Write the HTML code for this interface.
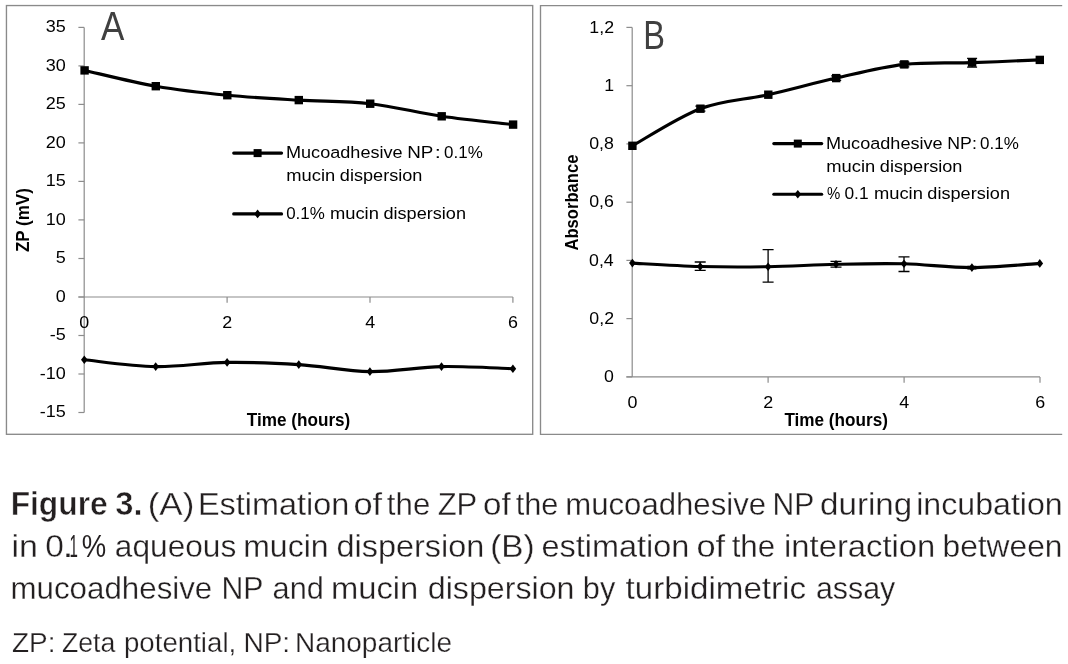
<!DOCTYPE html>
<html lang="en"><head><meta charset="utf-8"><title>Figure 3</title>
<style>html,body{margin:0;padding:0;background:#fff;overflow:hidden}svg{display:block}text{font-family:"Liberation Sans",sans-serif}</style></head><body>
<svg width="1068" height="664" viewBox="0 0 1068 664">
<rect width="1068" height="664" fill="#fff"/>
<rect x="6.45" y="5.55" width="526.25" height="428.75" fill="none" stroke="#8a8a8a" stroke-width="1.35"/>
<path d="M1062.2,5.55 H540.5 V434.4 H1062.2" fill="none" stroke="#8a8a8a" stroke-width="1.35"/>
<g stroke="#8c8c8c" stroke-width="1.2" fill="none">
<path d="M84.2,27.4 V412.5"/>
<path d="M78.4,412.5 H84.2"/>
<path d="M78.4,374.0 H84.2"/>
<path d="M78.4,335.5 H84.2"/>
<path d="M78.4,297.0 H84.2"/>
<path d="M78.4,258.5 H84.2"/>
<path d="M78.4,219.9 H84.2"/>
<path d="M78.4,181.4 H84.2"/>
<path d="M78.4,142.9 H84.2"/>
<path d="M78.4,104.4 H84.2"/>
<path d="M78.4,65.9 H84.2"/>
<path d="M78.4,27.4 H84.2"/>
<path d="M78.4,297.0 H512.9"/>
<path d="M227.1,297.0 v5.8"/>
<path d="M370.0,297.0 v5.8"/>
<path d="M512.9,297.0 v5.8"/>
</g>
<text x="39.76" y="417.20" font-size="16.9" fill="#000" textLength="26.01" lengthAdjust="spacingAndGlyphs">-15</text>
<text x="39.76" y="378.69" font-size="16.9" fill="#000" textLength="26.01" lengthAdjust="spacingAndGlyphs">-10</text>
<text x="49.77" y="340.18" font-size="16.9" fill="#000" textLength="16.00" lengthAdjust="spacingAndGlyphs">-5</text>
<text x="55.73" y="301.67" font-size="16.9" fill="#000" textLength="10.01" lengthAdjust="spacingAndGlyphs">0</text>
<text x="55.73" y="263.16" font-size="16.9" fill="#000" textLength="10.01" lengthAdjust="spacingAndGlyphs">5</text>
<text x="45.72" y="224.65" font-size="16.9" fill="#000" textLength="20.02" lengthAdjust="spacingAndGlyphs">10</text>
<text x="45.72" y="186.14" font-size="16.9" fill="#000" textLength="20.02" lengthAdjust="spacingAndGlyphs">15</text>
<text x="45.72" y="147.63" font-size="16.9" fill="#000" textLength="20.02" lengthAdjust="spacingAndGlyphs">20</text>
<text x="45.72" y="109.12" font-size="16.9" fill="#000" textLength="20.02" lengthAdjust="spacingAndGlyphs">25</text>
<text x="45.72" y="70.61" font-size="16.9" fill="#000" textLength="20.02" lengthAdjust="spacingAndGlyphs">30</text>
<text x="45.72" y="32.10" font-size="16.9" fill="#000" textLength="20.02" lengthAdjust="spacingAndGlyphs">35</text>
<text x="79.32" y="328.00" font-size="16.9" fill="#000" textLength="9.96" lengthAdjust="spacingAndGlyphs">0</text>
<text x="222.22" y="328.00" font-size="16.9" fill="#000" textLength="9.96" lengthAdjust="spacingAndGlyphs">2</text>
<text x="365.17" y="328.00" font-size="16.9" fill="#000" textLength="9.96" lengthAdjust="spacingAndGlyphs">4</text>
<text x="507.97" y="328.00" font-size="16.9" fill="#000" textLength="9.96" lengthAdjust="spacingAndGlyphs">6</text>
<text x="246.80" y="425.50" font-size="17.5" font-weight="bold" fill="#000" textLength="103.54" lengthAdjust="spacingAndGlyphs">Time (hours)</text>
<text transform="translate(28.9,252.09) rotate(-90)" font-size="17.5" font-weight="bold" textLength="63.96" lengthAdjust="spacingAndGlyphs">ZP (mV)</text>
<text x="100.92" y="39.90" font-size="41.3" fill="#404040" textLength="23.32" lengthAdjust="spacingAndGlyphs">A</text>
<path d="M84.6,70.4 C96.5,73.0 132.0,82.1 155.8,86.2 C179.6,90.3 203.5,92.9 227.3,95.2 C251.1,97.5 275.0,98.7 298.8,100.1 C322.6,101.5 346.4,101.0 370.2,103.7 C394.0,106.4 417.9,112.8 441.7,116.3 C465.5,119.8 501.2,123.2 513.1,124.6" fill="none" stroke="#000" stroke-width="3.1" stroke-linecap="round"/>
<rect x="80.4" y="66.2" width="8.4" height="8.4" fill="#000"/>
<rect x="151.6" y="82.0" width="8.4" height="8.4" fill="#000"/>
<rect x="223.1" y="91.0" width="8.4" height="8.4" fill="#000"/>
<rect x="294.6" y="95.9" width="8.4" height="8.4" fill="#000"/>
<rect x="366.0" y="99.5" width="8.4" height="8.4" fill="#000"/>
<rect x="437.5" y="112.1" width="8.4" height="8.4" fill="#000"/>
<rect x="508.9" y="120.4" width="8.4" height="8.4" fill="#000"/>
<path d="M84.3,359.8 C96.2,360.9 131.9,366.2 155.7,366.6 C179.5,367.0 203.2,362.7 227.1,362.4 C250.9,362.1 275.0,363.1 298.8,364.6 C322.6,366.1 346.1,371.3 369.9,371.6 C393.7,371.9 417.7,367.1 441.5,366.6 C465.3,366.1 501.0,368.4 512.9,368.7" fill="none" stroke="#000" stroke-width="3.1" stroke-linecap="round"/>
<path d="M84.3,355.5 l3.3,4.3 l-3.3,4.3 l-3.3,-4.3z" fill="#000"/>
<path d="M155.7,362.3 l3.3,4.3 l-3.3,4.3 l-3.3,-4.3z" fill="#000"/>
<path d="M227.1,358.1 l3.3,4.3 l-3.3,4.3 l-3.3,-4.3z" fill="#000"/>
<path d="M298.8,360.3 l3.3,4.3 l-3.3,4.3 l-3.3,-4.3z" fill="#000"/>
<path d="M369.9,367.3 l3.3,4.3 l-3.3,4.3 l-3.3,-4.3z" fill="#000"/>
<path d="M441.5,362.3 l3.3,4.3 l-3.3,4.3 l-3.3,-4.3z" fill="#000"/>
<path d="M512.9,364.4 l3.3,4.3 l-3.3,4.3 l-3.3,-4.3z" fill="#000"/>
<path d="M233.7,153.1 H281.6" stroke="#000" stroke-width="3.1" stroke-linecap="round"/><rect x="253.6" y="149.1" width="8" height="8" fill="#000"/>
<path d="M233.7,213.9 H281.6" stroke="#000" stroke-width="3.1" stroke-linecap="round"/><path d="M257.6,209.6 l3.4,4.3 l-3.4,4.3 l-3.4,-4.3z" fill="#000"/>
<text y="157.80" fill="#000" xml:space="preserve"><tspan x="286.00" font-size="16.9" textLength="116.62" lengthAdjust="spacingAndGlyphs">Mucoadhesive</tspan> <tspan x="407.24" font-size="16.9" textLength="26.13" lengthAdjust="spacingAndGlyphs">NP</tspan> <tspan x="434.76" font-size="16.9" textLength="6.08" lengthAdjust="spacingAndGlyphs">:</tspan> <tspan x="444.10" font-size="16.9" textLength="38.62" lengthAdjust="spacingAndGlyphs">0.1%</tspan></text>
<text y="181.20" fill="#000" xml:space="preserve"><tspan x="286.31" font-size="16.9" textLength="48.97" lengthAdjust="spacingAndGlyphs">mucin</tspan> <tspan x="339.85" font-size="16.9" textLength="82.56" lengthAdjust="spacingAndGlyphs">dispersion</tspan></text>
<text y="218.60" fill="#000" xml:space="preserve"><tspan x="286.20" font-size="16.9" textLength="38.62" lengthAdjust="spacingAndGlyphs">0.1%</tspan> <tspan x="329.91" font-size="16.9" textLength="48.97" lengthAdjust="spacingAndGlyphs">mucin</tspan> <tspan x="383.45" font-size="16.9" textLength="82.56" lengthAdjust="spacingAndGlyphs">dispersion</tspan></text>
<g stroke="#8c8c8c" stroke-width="1.2" fill="none">
<path d="M632.2,27.4 V376.9"/>
<path d="M626.4,27.4 H632.2"/>
<path d="M626.4,85.7 H632.2"/>
<path d="M626.4,143.9 H632.2"/>
<path d="M626.4,202.2 H632.2"/>
<path d="M626.4,260.4 H632.2"/>
<path d="M626.4,318.6 H632.2"/>
<path d="M626.4,376.9 H632.2"/>
<path d="M626.4,376.9 H1040.0"/>
<path d="M768.1,376.9 v5.8"/>
<path d="M904.1,376.9 v5.8"/>
<path d="M1040.0,376.9 v5.8"/>
</g>
<text x="589.37" y="32.50" font-size="16.9" fill="#000" textLength="24.67" lengthAdjust="spacingAndGlyphs">1,2</text>
<text x="604.17" y="90.75" font-size="16.9" fill="#000" textLength="9.87" lengthAdjust="spacingAndGlyphs">1</text>
<text x="589.26" y="149.00" font-size="16.9" fill="#000" textLength="24.67" lengthAdjust="spacingAndGlyphs">0,8</text>
<text x="589.26" y="207.25" font-size="16.9" fill="#000" textLength="24.67" lengthAdjust="spacingAndGlyphs">0,6</text>
<text x="589.05" y="265.50" font-size="16.9" fill="#000" textLength="24.67" lengthAdjust="spacingAndGlyphs">0,4</text>
<text x="589.37" y="323.75" font-size="16.9" fill="#000" textLength="24.67" lengthAdjust="spacingAndGlyphs">0,2</text>
<text x="604.07" y="382.00" font-size="16.9" fill="#000" textLength="9.87" lengthAdjust="spacingAndGlyphs">0</text>
<text x="627.42" y="407.70" font-size="16.9" fill="#000" textLength="9.96" lengthAdjust="spacingAndGlyphs">0</text>
<text x="763.36" y="407.70" font-size="16.9" fill="#000" textLength="9.96" lengthAdjust="spacingAndGlyphs">2</text>
<text x="899.35" y="407.70" font-size="16.9" fill="#000" textLength="9.96" lengthAdjust="spacingAndGlyphs">4</text>
<text x="1035.19" y="407.70" font-size="16.9" fill="#000" textLength="9.96" lengthAdjust="spacingAndGlyphs">6</text>
<text x="784.40" y="425.70" font-size="17.5" font-weight="bold" fill="#000" textLength="103.54" lengthAdjust="spacingAndGlyphs">Time (hours)</text>
<text transform="translate(578,250.58) rotate(-90)" font-size="17.5" font-weight="bold" textLength="95.98" lengthAdjust="spacingAndGlyphs">Absorbance</text>
<text x="643.24" y="49.40" font-size="40.4" fill="#404040" textLength="21.68" lengthAdjust="spacingAndGlyphs">B</text>
<path d="M700.2,262.0 V270.3 M694.7,262.0 h11 M694.7,270.3 h11" stroke="#000" stroke-width="1.3" fill="none"/>
<path d="M768.1,249.7 V282.2 M762.6,249.7 h11 M762.6,282.2 h11" stroke="#000" stroke-width="1.3" fill="none"/>
<path d="M836.0,261.3 V267.2 M830.5,261.3 h11 M830.5,267.2 h11" stroke="#000" stroke-width="1.3" fill="none"/>
<path d="M904.0,256.9 V271.5 M898.5,256.9 h11 M898.5,271.5 h11" stroke="#000" stroke-width="1.3" fill="none"/>
<path d="M971.9,266.3 V268.9 M967.4,266.3 h9 M967.4,268.9 h9" stroke="#000" stroke-width="1.3" fill="none"/>
<path d="M972.1,58.3 V67.1 M967.1,58.3 h10 M967.1,67.1 h10" stroke="#000" stroke-width="1.3" fill="none"/>
<path d="M700.4,106.2 V111.2 M695.4,106.2 h10 M695.4,111.2 h10" stroke="#000" stroke-width="1.3" fill="none"/>
<path d="M836.2,75.9 V80.3 M831.2,75.9 h10 M831.2,80.3 h10" stroke="#000" stroke-width="1.3" fill="none"/>
<path d="M904.3,62.0 V66.8 M899.3,62.0 h10 M899.3,66.8 h10" stroke="#000" stroke-width="1.3" fill="none"/>
<path d="M632.4,145.8 C643.7,139.6 677.8,117.2 700.4,108.7 C723.0,100.2 745.7,99.8 768.3,94.7 C790.9,89.6 813.5,83.1 836.2,78.1 C858.9,73.0 881.6,67.0 904.3,64.4 C926.9,61.8 949.5,63.4 972.1,62.6 C994.7,61.9 1028.5,60.4 1039.8,59.9" fill="none" stroke="#000" stroke-width="3.1" stroke-linecap="round"/>
<rect x="628.2" y="141.6" width="8.4" height="8.4" fill="#000"/>
<rect x="696.2" y="104.5" width="8.4" height="8.4" fill="#000"/>
<rect x="764.1" y="90.5" width="8.4" height="8.4" fill="#000"/>
<rect x="832.0" y="73.9" width="8.4" height="8.4" fill="#000"/>
<rect x="900.1" y="60.2" width="8.4" height="8.4" fill="#000"/>
<rect x="967.9" y="58.4" width="8.4" height="8.4" fill="#000"/>
<rect x="1035.6" y="55.7" width="8.4" height="8.4" fill="#000"/>
<path d="M632.4,263.1 C643.7,263.7 677.6,265.9 700.2,266.5 C722.8,267.1 745.5,267.1 768.1,266.7 C790.7,266.3 813.4,264.8 836.0,264.3 C858.6,263.8 881.4,263.2 904.0,263.8 C926.6,264.4 949.3,267.7 971.9,267.6 C994.5,267.5 1028.5,264.1 1039.8,263.4" fill="none" stroke="#000" stroke-width="3.1" stroke-linecap="round"/>
<path d="M632.4,258.8 l3.3,4.3 l-3.3,4.3 l-3.3,-4.3z" fill="#000"/>
<path d="M700.2,262.2 l3.3,4.3 l-3.3,4.3 l-3.3,-4.3z" fill="#000"/>
<path d="M768.1,262.4 l3.3,4.3 l-3.3,4.3 l-3.3,-4.3z" fill="#000"/>
<path d="M836.0,260.0 l3.3,4.3 l-3.3,4.3 l-3.3,-4.3z" fill="#000"/>
<path d="M904.0,259.5 l3.3,4.3 l-3.3,4.3 l-3.3,-4.3z" fill="#000"/>
<path d="M971.9,263.3 l3.3,4.3 l-3.3,4.3 l-3.3,-4.3z" fill="#000"/>
<path d="M1039.8,259.1 l3.3,4.3 l-3.3,4.3 l-3.3,-4.3z" fill="#000"/>
<path d="M773.8,143.6 H821.7" stroke="#000" stroke-width="3.1" stroke-linecap="round"/><rect x="793.8" y="139.6" width="8" height="8" fill="#000"/>
<path d="M773.8,194.2 H821.7" stroke="#000" stroke-width="3.1" stroke-linecap="round"/><path d="M797.8,189.9 l3.4,4.3 l-3.4,4.3 l-3.4,-4.3z" fill="#000"/>
<text y="148.50" fill="#000" xml:space="preserve"><tspan x="826.00" font-size="16.9" textLength="116.62" lengthAdjust="spacingAndGlyphs">Mucoadhesive</tspan> <tspan x="947.33" font-size="16.9" textLength="29.51" lengthAdjust="spacingAndGlyphs">NP:</tspan> <tspan x="980.10" font-size="16.9" textLength="38.73" lengthAdjust="spacingAndGlyphs">0.1%</tspan></text>
<text y="172.00" fill="#000" xml:space="preserve"><tspan x="826.31" font-size="16.9" textLength="48.97" lengthAdjust="spacingAndGlyphs">mucin</tspan> <tspan x="879.85" font-size="16.9" textLength="82.56" lengthAdjust="spacingAndGlyphs">dispersion</tspan></text>
<text y="198.80" fill="#000" xml:space="preserve"><tspan x="826.97" font-size="16.9" textLength="13.28" lengthAdjust="spacingAndGlyphs">%</tspan> <tspan x="844.48" font-size="16.9" textLength="24.13" lengthAdjust="spacingAndGlyphs">0.1</tspan> <tspan x="873.91" font-size="16.9" textLength="48.97" lengthAdjust="spacingAndGlyphs">mucin</tspan> <tspan x="927.35" font-size="16.9" textLength="82.66" lengthAdjust="spacingAndGlyphs">dispersion</tspan></text>
<text y="514.80" fill="#231f20" xml:space="preserve"><tspan x="10.67" font-size="33.5" font-weight="bold" textLength="96.99" lengthAdjust="spacingAndGlyphs" stroke="#fff" stroke-width="0.5">Figure</tspan> <tspan x="115.27" font-size="33.5" font-weight="bold" textLength="27.26" lengthAdjust="spacingAndGlyphs" stroke="#fff" stroke-width="0.5">3.</tspan> <tspan x="147.66" font-size="32" textLength="46.62" lengthAdjust="spacingAndGlyphs" stroke="#fff" stroke-width="0.3">(A)</tspan> <tspan x="198.02" font-size="32" textLength="151.25" lengthAdjust="spacingAndGlyphs" stroke="#fff" stroke-width="0.3">Estimation</tspan> <tspan x="353.45" font-size="32" textLength="28.68" lengthAdjust="spacingAndGlyphs" stroke="#fff" stroke-width="0.3">of</tspan> <tspan x="386.86" font-size="32" textLength="43.44" lengthAdjust="spacingAndGlyphs" stroke="#fff" stroke-width="0.3">the</tspan> <tspan x="437.68" font-size="32" textLength="39.61" lengthAdjust="spacingAndGlyphs" stroke="#fff" stroke-width="0.3">ZP</tspan> <tspan x="483.00" font-size="32" textLength="27.63" lengthAdjust="spacingAndGlyphs" stroke="#fff" stroke-width="0.3">of</tspan> <tspan x="515.67" font-size="32" textLength="42.81" lengthAdjust="spacingAndGlyphs" stroke="#fff" stroke-width="0.3">the</tspan> <tspan x="565.31" font-size="32" textLength="200.75" lengthAdjust="spacingAndGlyphs" stroke="#fff" stroke-width="0.3">mucoadhesive</tspan> <tspan x="772.41" font-size="32" textLength="41.80" lengthAdjust="spacingAndGlyphs" stroke="#fff" stroke-width="0.3">NP</tspan> <tspan x="820.11" font-size="32" textLength="91.97" lengthAdjust="spacingAndGlyphs" stroke="#fff" stroke-width="0.3">during</tspan> <tspan x="916.24" font-size="32" textLength="146.51" lengthAdjust="spacingAndGlyphs" stroke="#fff" stroke-width="0.3">incubation</tspan></text>
<text y="556.80" fill="#231f20" xml:space="preserve"><tspan x="11.42" font-size="32" textLength="26.47" lengthAdjust="spacingAndGlyphs" stroke="#fff" stroke-width="0.3">in</tspan> <tspan x="45.15" font-size="32" textLength="18.61" lengthAdjust="spacingAndGlyphs" stroke="#fff" stroke-width="0.3">0</tspan><tspan x="63.21" font-size="32" textLength="9.46" lengthAdjust="spacingAndGlyphs">.</tspan><tspan x="69.47" font-size="32" textLength="8.38" lengthAdjust="spacingAndGlyphs">1</tspan><tspan x="81.76" font-size="32" textLength="24.43" lengthAdjust="spacingAndGlyphs">%</tspan> <tspan x="114.87" font-size="32" textLength="121.35" lengthAdjust="spacingAndGlyphs" stroke="#fff" stroke-width="0.3">aqueous</tspan> <tspan x="243.25" font-size="32" textLength="85.25" lengthAdjust="spacingAndGlyphs" stroke="#fff" stroke-width="0.3">mucin</tspan> <tspan x="336.53" font-size="32" textLength="147.70" lengthAdjust="spacingAndGlyphs" stroke="#fff" stroke-width="0.3">dispersion</tspan> <tspan x="490.27" font-size="32" textLength="44.42" lengthAdjust="spacingAndGlyphs" stroke="#fff" stroke-width="0.3">(B)</tspan> <tspan x="541.53" font-size="32" textLength="147.79" lengthAdjust="spacingAndGlyphs" stroke="#fff" stroke-width="0.3">estimation</tspan> <tspan x="696.45" font-size="32" textLength="28.68" lengthAdjust="spacingAndGlyphs" stroke="#fff" stroke-width="0.3">of</tspan> <tspan x="731.66" font-size="32" textLength="43.54" lengthAdjust="spacingAndGlyphs" stroke="#fff" stroke-width="0.3">the</tspan> <tspan x="784.10" font-size="32" textLength="151.14" lengthAdjust="spacingAndGlyphs" stroke="#fff" stroke-width="0.3">interaction</tspan> <tspan x="942.47" font-size="32" textLength="120.05" lengthAdjust="spacingAndGlyphs" stroke="#fff" stroke-width="0.3">between</tspan></text>
<text y="598.80" fill="#231f20" xml:space="preserve"><tspan x="10.50" font-size="32" textLength="201.77" lengthAdjust="spacingAndGlyphs" stroke="#fff" stroke-width="0.3">mucoadhesive</tspan> <tspan x="221.39" font-size="32" textLength="42.02" lengthAdjust="spacingAndGlyphs" stroke="#fff" stroke-width="0.3">NP</tspan> <tspan x="272.60" font-size="32" textLength="51.25" lengthAdjust="spacingAndGlyphs" stroke="#fff" stroke-width="0.3">and</tspan> <tspan x="331.00" font-size="32" textLength="87.25" lengthAdjust="spacingAndGlyphs" stroke="#fff" stroke-width="0.3">mucin</tspan> <tspan x="427.84" font-size="32" textLength="146.68" lengthAdjust="spacingAndGlyphs" stroke="#fff" stroke-width="0.3">dispersion</tspan> <tspan x="582.84" font-size="32" textLength="32.41" lengthAdjust="spacingAndGlyphs" stroke="#fff" stroke-width="0.3">by</tspan> <tspan x="625.63" font-size="32" textLength="180.31" lengthAdjust="spacingAndGlyphs" stroke="#fff" stroke-width="0.3">turbidimetric</tspan> <tspan x="815.92" font-size="32" textLength="79.32" lengthAdjust="spacingAndGlyphs" stroke="#fff" stroke-width="0.3">assay</tspan></text>
<text y="651.70" fill="#231f20" xml:space="preserve"><tspan x="12.05" font-size="27.0" textLength="43.46" lengthAdjust="spacingAndGlyphs" stroke="#fff" stroke-width="0.25">ZP:</tspan> <tspan x="61.99" font-size="27.0" textLength="53.35" lengthAdjust="spacingAndGlyphs" stroke="#fff" stroke-width="0.25">Zeta</tspan> <tspan x="123.94" font-size="27.0" textLength="112.32" lengthAdjust="spacingAndGlyphs" stroke="#fff" stroke-width="0.25">potential,</tspan> <tspan x="243.40" font-size="27.0" textLength="46.73" lengthAdjust="spacingAndGlyphs" stroke="#fff" stroke-width="0.25">NP:</tspan> <tspan x="295.00" font-size="27.0" textLength="157.04" lengthAdjust="spacingAndGlyphs" stroke="#fff" stroke-width="0.25">Nanoparticle</tspan></text>
</svg></body></html>
